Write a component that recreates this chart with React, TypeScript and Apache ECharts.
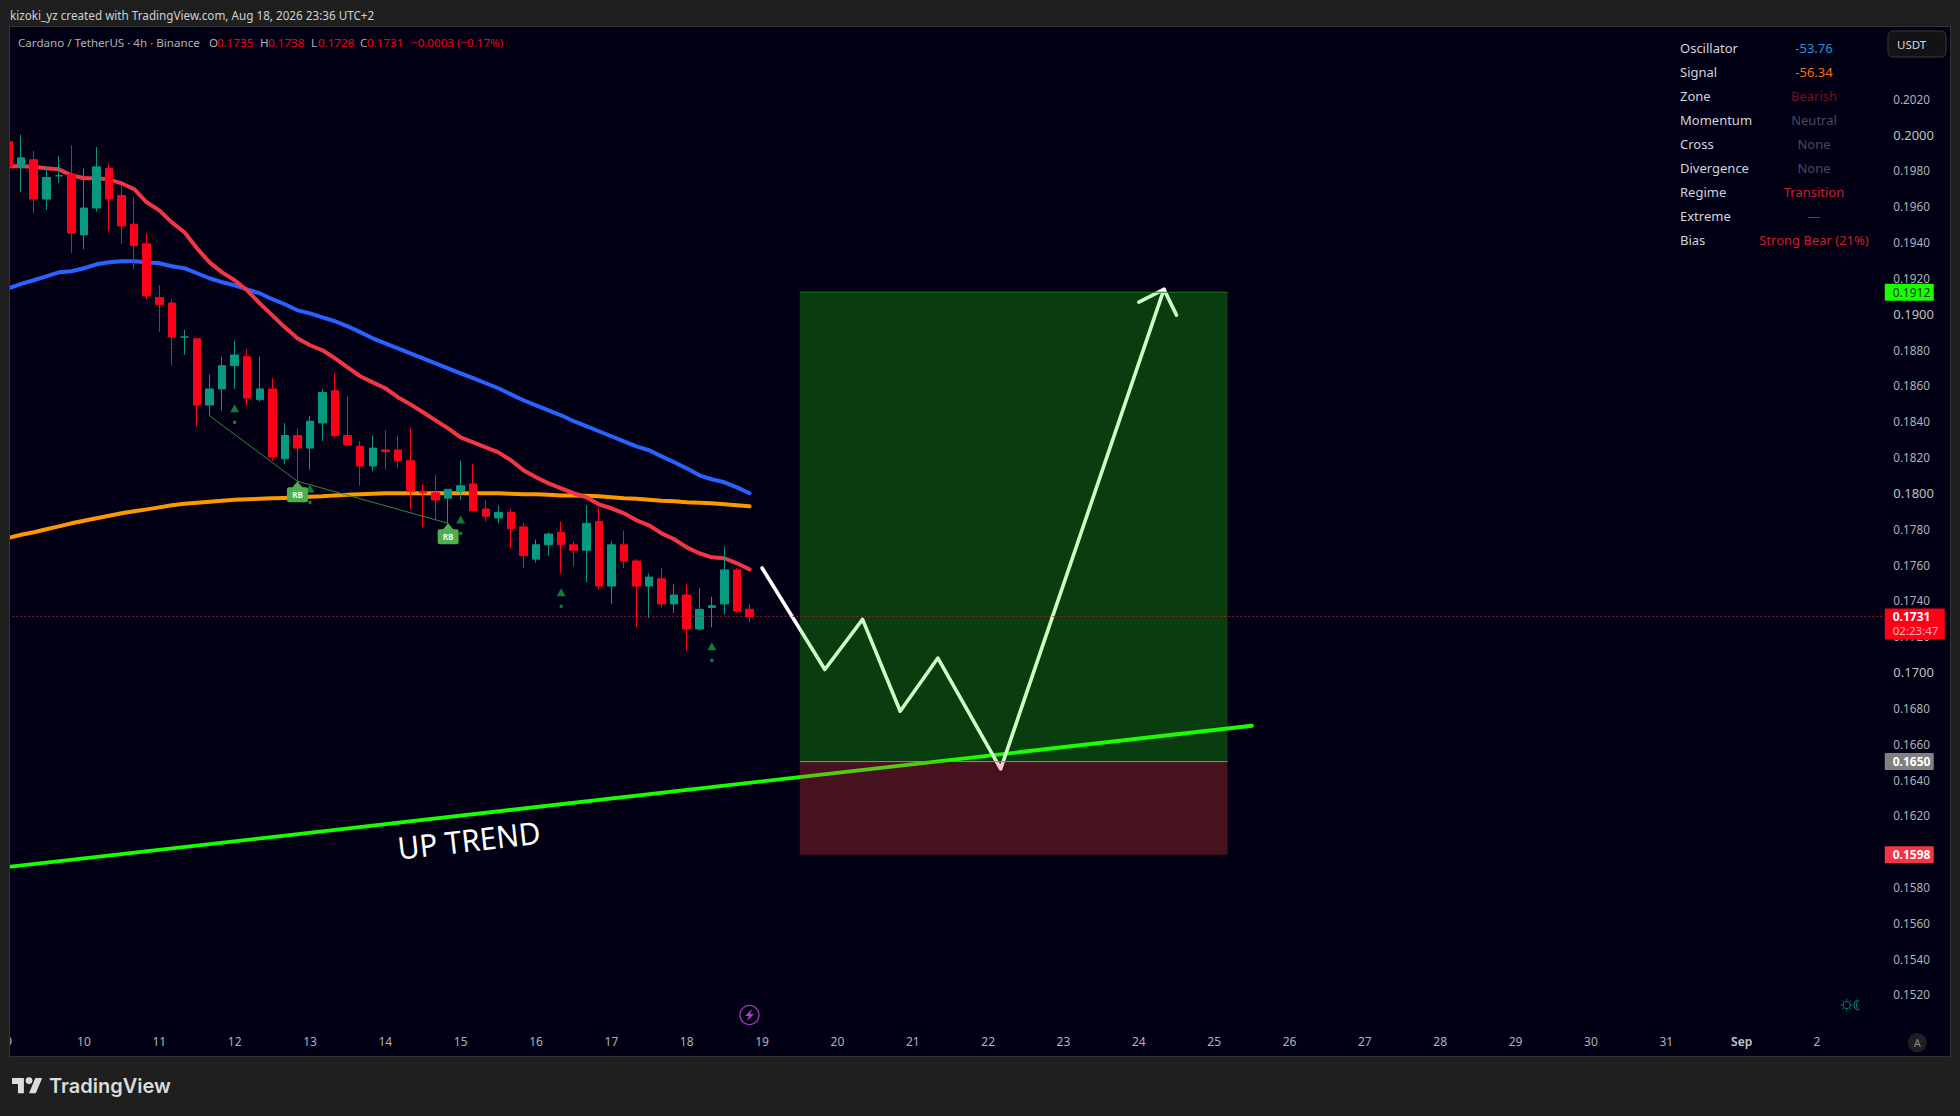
import React, { useEffect, useRef } from "react";
import * as echarts from "echarts";

const FONT = "'Noto Sans', sans-serif";

const opens = [.1996,.1982,.1986,.1964,.1977,.1978,.1944,.1959,.1981,.1966,
.1950,.1939,.1909,.1906,.1887,.1886,.1849,.1858,.1871,.1876,
.1852,.1858,.1819,.1832,.1825,.1839,.1857,.1832,.1826,.1815,
.1824,.1824,.1818,.1801,.1800,.1797,.1801,.1805,.1791,.1786,
.1789,.1781,.1763,.1771,.1778,.1771,.1768,.1784,.1748,.1771,
.1762,.1748,.1752,.1738,.1743,.1724,.1736,.1738,.1757,.1735];
const closes = [.1982,.1987,.1964,.1976,.1977,.1945,.1959,.1982,.1964,.1949,
.1938,.1910,.1905,.1887,.1887,.1849,.1858,.1871,.1877,.1853,
.1858,.1820,.1832,.1825,.1840,.1856,.1832,.1827,.1815,.1825,
.1823,.1818,.1801,.1800,.1796,.1802,.1804,.1790,.1787,.1789,
.1780,.1765,.1771,.1777,.1771,.1768,.1783,.1748,.1771,.1762,
.1748,.1753,.1738,.1743,.1724,.1735,.1737,.1757,.1734,.1731];
const lows = [.1982,.1968,.1956,.1958,.1973,.1934,.1936,.1957,.1946,.1939,
.1925,.1908,.1890,.1871,.1877,.1837,.1843,.1846,.1858,.1849,
.1851,.1818,.1816,.1806,.1813,.1829,.1831,.1827,.1804,.1812,
.1813,.1814,.1791,.1781,.1785,.1783,.1796,.1790,.1784,.1783,
.1769,.1758,.1761,.1765,.1755,.1759,.1750,.1746,.1738,.1758,
.1725,.1730,.1736,.1733,.1712,.1723,.1725,.1732,.1733,.1728];
const highs = [.1996,.2000,.1991,.1982,.1988,.1994,.1981,.1993,.1984,.1972,
.1965,.1945,.1916,.1908,.1891,.1886,.1866,.1876,.1885,.1880,
.1876,.1864,.1839,.1836,.1843,.1858,.1867,.1854,.1829,.1832,
.1835,.1832,.1836,.1805,.1810,.1802,.1818,.1816,.1796,.1793,
.1791,.1783,.1774,.1778,.1784,.1773,.1793,.1792,.1773,.1779,
.1763,.1755,.1758,.1749,.1749,.1747,.1742,.1770,.1758,.1738];

const emaRed = [.19823,.19823,.19820,.19812,.19806,.19773,.19756,.19756,.19750,.19728,
.19695,.19622,.19577,.19510,.19455,.19365,.19287,.19231,.19187,.19131,
.19058,.18991,.18924,.18863,.18824,.18796,.18751,.18701,.18651,.18617,
.18584,.18534,.18494,.18450,.18405,.18360,.18310,.18282,.18254,.18226,
.18182,.18126,.18087,.18053,.18025,.17998,.17975,.17936,.17914,.17886,
.17847,.17819,.17774,.17741,.17696,.17663,.17640,.17635,.17607,.17573];
const emaBlue = [.19142,.19167,.19187,.19209,.19231,.19237,.19254,.19276,.19287,.19293,
.19293,.19287,.19282,.19265,.19254,.19226,.19198,.19176,.19159,.19136,
.19114,.19081,.19053,.19019,.19002,.18980,.18958,.18930,.18897,.18863,
.18835,.18807,.18779,.18751,.18723,.18695,.18667,.18640,.18612,.18584,
.18550,.18517,.18489,.18461,.18433,.18400,.18372,.18344,.18316,.18288,
.18260,.18238,.18204,.18171,.18137,.18098,.18076,.18059,.18031,.17998];
const emaOrange = [.17749,.17766,.17780,.17797,.17813,.17830,.17844,.17858,.17872,.17886,
.17897,.17908,.17919,.17931,.17939,.17945,.17950,.17956,.17961,.17964,
.17967,.17970,.17972,.17975,.17978,.17981,.17986,.17989,.17992,.17995,
.17998,.17998,.17998,.17998,.17998,.17998,.17998,.17998,.17998,.17998,
.17995,.17992,.17992,.17989,.17986,.17986,.17984,.17981,.17975,.17970,
.17967,.17961,.17956,.17953,.17947,.17945,.17942,.17936,.17931,.17925];

const signalBars = [18, 24, 36, 44, 56];
const signalTriangles = [.18472, .18025, .17852, .17445, .17144];
const signalDots = [.18394, .17947, .17774, .17367, .17065];

const rbBars = [23, 35];
const rbPrices = [.18065, .17830];
const pivotLine = [[16, .18431], [23, .18065], [35, .17830]];

const trendLine = [[0, .15912], [99, .16700]];
const pathLine = [[60, .17581], [65, .17014], [68, .17294], [71, .16781], [74, .17078], [79, .16459], [92, .19136]];
const arrowHead = [[90, .19065], [92, .19136], [93, .18992]];

const targetBox = [63, 97.07, .1912, .1650];
const stopBox = [63, 97.07, .1650, .1598];

const dayLabels = ["9","10","11","12","13","14","15","16","17","18","19","20","21","22","23","24","25","26","27","28","29","30","31","Sep","2",""];

const lastPrice = 0.1731;
const priceBadges: [number, string, string, string][] = [
  [.1912, "0.1912", "#1aff00", "#083a08"],
  [.1650, "0.1650", "#808080", "#ffffff"],
  [.1598, "0.1598", "#f23645", "#ffffff"],
];
const countdown = "02:23:47";

const legendPieces: [string, number, string][] = [
  ["Cardano / TetherUS · 4h · Binance", 18, "#b2b2b2"],
  ["O", 209, "#b2b2b2"], ["0.1735", 217, "#f00018"],
  ["H", 260, "#b2b2b2"], ["0.1738", 268, "#f00018"],
  ["L", 311, "#b2b2b2"], ["0.1728", 318, "#f00018"],
  ["C", 360, "#b2b2b2"], ["0.1731", 367, "#f00018"],
  ["−0.0003 (−0.17%)", 411, "#f00018"],
];

const tableLabels = ["Oscillator","Signal","Zone","Momentum","Cross","Divergence","Regime","Extreme","Bias"];
const tableValues = ["-53.76","-56.34","Bearish","Neutral","None","None","Transition","—","Strong Bear (21%)"];
const tableColors = ["#2196d8","#f57010","#731520","#4a4a5c","#4a4a5c","#4a4a5c","#cf1f2a","#4a4a5c","#cf1f2a"];

const RB_PATH = "path://M10.5 0 L15.5 6 H19 Q21 6 21 8 V19 Q21 21 19 21 H2 Q0 21 0 19 V8 Q0 6 2 6 H5.5 Z";

echarts.graphic.registerShape("tvlogo", echarts.graphic.extendPath(
  "M14 22H7V11H0V4h14v18zM28 22h-8l7.5-18h8L28 22zM20 3a4 4 0 1 0 0 8a4 4 0 1 0 0-8z", {} as any) as any);

function buildGraphic() {
  const band = (x: number, y: number, width: number, height: number) => ({
    type: "rect", shape: { x, y, width, height }, style: { fill: "#1f1f1f" }, z: 100, silent: true,
  });
  const txt = (text: string, x: number, y: number, fill: string, fontSize: number, extra: any = {}) => ({
    type: "text", z: 101, silent: true,
    style: { text, x, y, fill, fontSize, fontFamily: FONT, align: "left", verticalAlign: "middle", ...extra },
  });
  const teal = "#0a8a72";
  const sunCx = 1846.7, sunCy = 1005;
  const rays = [0, 45, 90, 135, 180, 225, 270, 315].map((deg) => {
    const a = (deg * Math.PI) / 180;
    return {
      type: "line", z: 101, silent: true,
      shape: { x1: sunCx + Math.cos(a) * 4.4, y1: sunCy + Math.sin(a) * 4.4, x2: sunCx + Math.cos(a) * 6.2, y2: sunCy + Math.sin(a) * 6.2 },
      style: { stroke: teal, lineWidth: 1 },
    };
  });
  const els: any[] = [
    band(0, 0, 1960, 27), band(0, 1056, 1960, 60), band(0, 0, 10, 1116), band(1950, 0, 10, 1116),
    { type: "rect", z: 100, shape: { x: 9.5, y: 26.5, width: 1941, height: 1030 }, style: { fill: "none", stroke: "#323232", lineWidth: 1 } },
    txt("kizoki_yz created with TradingView.com, Aug 18, 2026 23:36 UTC+2", 10, 15, "#d0d0d0", 11.7),
    { type: "tvlogo", z: 101, x: 12, y: 1074.6, scaleX: 0.85, scaleY: 0.85, style: { fill: "#dcdcdc" } },
    txt("TradingView", 49, 1086, "#dcdcdc", 20, { fontFamily: "Inter, sans-serif", fontWeight: 600 }),
    { type: "rect", z: 101, shape: { x: 1888, y: 31, width: 58, height: 26, r: 5 }, style: { fill: "#131316", stroke: "#383838", lineWidth: 1 } },
    txt("USDT", 1897, 44.5, "#d8d8d8", 11.5),
    { type: "text", z: 40, silent: true, x: 469, y: 840, rotation: (6.5 * Math.PI) / 180, scaleX: 0.96,
      style: { text: "UP TREND", x: 0, y: 0, fill: "#ffffff", fontSize: 31, fontFamily: FONT, align: "center", verticalAlign: "middle" } },
    { type: "circle", z: 101, shape: { cx: 749.5, cy: 1015, r: 9.5 }, style: { fill: "none", stroke: "#a33db8", lineWidth: 1.3 } },
    { type: "polygon", z: 101, shape: { points: [[752, 1009], [745, 1016], [749, 1016], [747, 1021], [754, 1014], [750, 1014]] }, style: { fill: "#b045c8" } },
    { type: "circle", z: 101, silent: true, shape: { cx: sunCx, cy: sunCy, r: 3.6 }, style: { fill: "none", stroke: teal, lineWidth: 1 } },
    ...rays,
    { type: "arc", z: 101, silent: true, shape: { cx: 1859.5, cy: 1005, r: 5.5, startAngle: Math.PI * 0.6, endAngle: Math.PI * 1.4 }, style: { fill: "none", stroke: teal, lineWidth: 1 } },
    { type: "arc", z: 101, silent: true, shape: { cx: 1861.5, cy: 1005, r: 5.2, startAngle: Math.PI * 0.62, endAngle: Math.PI * 1.38 }, style: { fill: "none", stroke: teal, lineWidth: 1 } },
    { type: "circle", z: 101, shape: { cx: 1917.3, cy: 1042.7, r: 9.5 }, style: { fill: "#1f1f23" } },
    txt("A", 1917.3, 1043, "#8a8a8a", 10.5, { align: "center" }),
  ];
  legendPieces.forEach(([t, x, c]) => els.push(txt(t, x, 42, c, 11.6)));
  tableLabels.forEach((t, i) => els.push(txt(t, 1680, 48 + i * 24, "#d1d4dc", 13)));
  tableValues.forEach((t, i) => els.push(txt(t, 1814, 48 + i * 24, tableColors[i], 13, { align: "center" })));
  return els;
}

function buildOption(): any {
  const candles = opens.map((o, i) => [i, o, closes[i], lows[i], highs[i]]);
  const line = (name: string, data: number[][], color: string, width: number, z: number, extra: any = {}) => ({
    name, type: "line", data, showSymbol: false, symbol: "none", z, silent: true,
    lineStyle: { color, width, cap: "round", join: "round", ...extra },
  });
  const indexed = (a: number[]) => a.map((v, i) => [i, v]);
  return {
    animation: false,
    backgroundColor: "#010014",
    grid: { left: 8.6, top: 27.1, width: 1883.7, height: 1003.2, show: false },
    xAxis: {
      type: "value", min: 0, max: 150, interval: 6, splitLine: { show: false }, axisLine: { show: false }, axisTick: { show: false },
      axisLabel: {
        margin: 5, hideOverlap: false, color: "#b2b2b2", fontSize: 12, fontFamily: FONT, showMinLabel: true, showMaxLabel: false,
        formatter: (v: number) => { const l = dayLabels[Math.round(v / 6)] ?? ""; return l === "Sep" ? `{b|${l}}` : l; },
        rich: { b: { fontWeight: 600, color: "#c8c8c8", fontSize: 12, fontFamily: FONT } },
      },
    },
    yAxis: {
      type: "value", position: "right", min: 0.15, max: 0.206, interval: 0.002, scale: true,
      splitLine: { show: false }, axisLine: { show: false }, axisTick: { show: false },
      axisLabel: {
        inside: false, margin: 1, align: "left", color: "#b2b2b2", fontSize: 11.7, fontFamily: FONT, showMinLabel: false, showMaxLabel: false,
        formatter: (v: number) => {
          const r = Math.round(v * 1e4);
          if (r < 1520 || r > 2020 || r === 1600) return "";
          const s = (r / 1e4).toFixed(4);
          return r % 100 === 0 ? `{m|${s}}` : s;
        },
        rich: { m: { fontSize: 13, color: "#c0c0c0", fontFamily: FONT } },
      },
    },
    graphic: { elements: buildGraphic() },
    series: [
      line("EMA orange", indexed(emaOrange), "#ff9800", 4, 2),
      line("EMA blue", indexed(emaBlue), "#2962ff", 4, 2),
      line("EMA red", indexed(emaRed), "#f23645", 4, 2),
      {
        name: "ADAUSDT", type: "candlestick", data: candles, barWidth: 8, z: 3, silent: true,
        itemStyle: { color: "#089981", color0: "#ff0018", borderColor: "#089981", borderColor0: "#ff0018", borderColorDoji: "#089981", borderWidth: 1 },
      },
      line("Pivot", pivotLine, "#2f8a35", 1, 3.5),
      {
        name: "Signal", type: "scatter", z: 4, silent: true, symbol: "triangle", symbolSize: [9, 8], itemStyle: { color: "#169a3f" },
        data: signalBars.map((b, i) => [b, signalTriangles[i]]),
      },
      {
        name: "Signal dot", type: "scatter", z: 4, silent: true, symbol: "circle", symbolSize: 3.6, itemStyle: { color: "#169a3f" },
        data: signalBars.map((b, i) => [b, signalDots[i]]),
      },
      {
        name: "RB", type: "scatter", z: 4.5, silent: true, symbol: RB_PATH, symbolSize: [21, 21], symbolOffset: [0, 10.5], symbolKeepAspect: false,
        itemStyle: { color: "#4caf50", opacity: 1 },
        label: { show: true, position: "inside", offset: [0, 3], formatter: "RB", color: "#eaffea", fontSize: 8, fontWeight: 700, fontFamily: FONT },
        data: rbBars.map((b, i) => [b, rbPrices[i]]),
      },
      line("Up trend", trendLine, "#18ff00", 3.8, 5),
      line("Path", pathLine, "#ffffff", 3.6, 5),
      line("Arrow", arrowHead, "#ffffff", 3.6, 5),
      {
        name: "Position", type: "custom", z: 6, silent: true, clip: true,
        data: [targetBox, stopBox],
        encode: { x: [0, 1], y: [2, 3] },
        renderItem: (p: any, api: any) => {
          const a = api.coord([api.value(0), api.value(2)]);
          const b = api.coord([api.value(1), api.value(3)]);
          const isTarget = p.dataIndex === 0;
          const children: any[] = [{
            type: "rect",
            shape: { x: a[0], y: a[1], width: b[0] - a[0], height: b[1] - a[1] },
            style: { fill: isTarget ? "rgba(38,250,0,0.24)" : "rgba(247,64,56,0.28)" },
          }];
          const y0 = isTarget ? a[1] : b[1];
          children.push({
            type: "line", shape: { x1: a[0], y1: y0, x2: b[0], y2: y0 },
            style: { stroke: isTarget ? "#1f7a20" : "#3a1018", lineWidth: 1 },
          });
          if (!isTarget) children.push({
            type: "line", shape: { x1: a[0], y1: a[1], x2: b[0], y2: a[1] },
            style: { stroke: "#86908a", lineWidth: 1 },
          });
          return { type: "group", children };
        },
      },
      {
        name: "Last price", type: "line", z: 7, symbol: "none", silent: true,
        data: [[0, lastPrice], [149.4, lastPrice]],
        lineStyle: { color: "#ff0018", width: 1, type: [1.5, 2.5] },
      },
      {
        name: "Badges", type: "custom", z: 9, silent: true, clip: false,
        data: priceBadges.map((b) => [149.4, b[0]]),
        encode: { x: 0, y: 1 },
        renderItem: (p: any, api: any) => {
          const c = api.coord([api.value(0), api.value(1)]);
          const [, label, fill, ink] = priceBadges[p.dataIndex];
          return {
            type: "group", children: [
              { type: "rect", shape: { x: c[0], y: c[1] - 8.5, width: 49, height: 17, r: 1 }, style: { fill } },
              { type: "text", style: { text: label, x: c[0] + 8, y: c[1], fill: ink, fontSize: 12, fontWeight: p.dataIndex === 0 ? 400 : 700, fontFamily: FONT, align: "left", verticalAlign: "middle" } },
            ],
          };
        },
      },
      {
        name: "Last badge", type: "custom", z: 9, silent: true, clip: false,
        data: [[149.4, lastPrice]],
        encode: { x: 0, y: 1 },
        renderItem: (_p: any, api: any) => {
          const c = api.coord([api.value(0), api.value(1)]);
          return {
            type: "group", children: [
              { type: "rect", shape: { x: c[0], y: c[1] - 8, width: 60, height: 31, r: 1 }, style: { fill: "#ff0018" } },
              { type: "text", style: { text: lastPrice.toFixed(4), x: c[0] + 8, y: c[1] + 0.5, fill: "#ffffff", fontSize: 12, fontWeight: 700, fontFamily: FONT, align: "left", verticalAlign: "middle" } },
              { type: "text", style: { text: countdown, x: c[0] + 8, y: c[1] + 14.5, fill: "#ffb4ba", fontSize: 11.5, fontFamily: FONT, align: "left", verticalAlign: "middle" } },
            ],
          };
        },
      },
    ],
  };
}

export default function App() {
  const ref = useRef<HTMLDivElement>(null);
  useEffect(() => {
    document.body.style.margin = "0";
    const chart = echarts.init(ref.current!, undefined, { renderer: "svg", width: 1960, height: 1116 });
    chart.setOption(buildOption());
    return () => chart.dispose();
  }, []);
  return <div ref={ref} style={{ position: "fixed", left: 0, top: 0, width: 1960, height: 1116, background: "#1f1f1f" }} />;
}
